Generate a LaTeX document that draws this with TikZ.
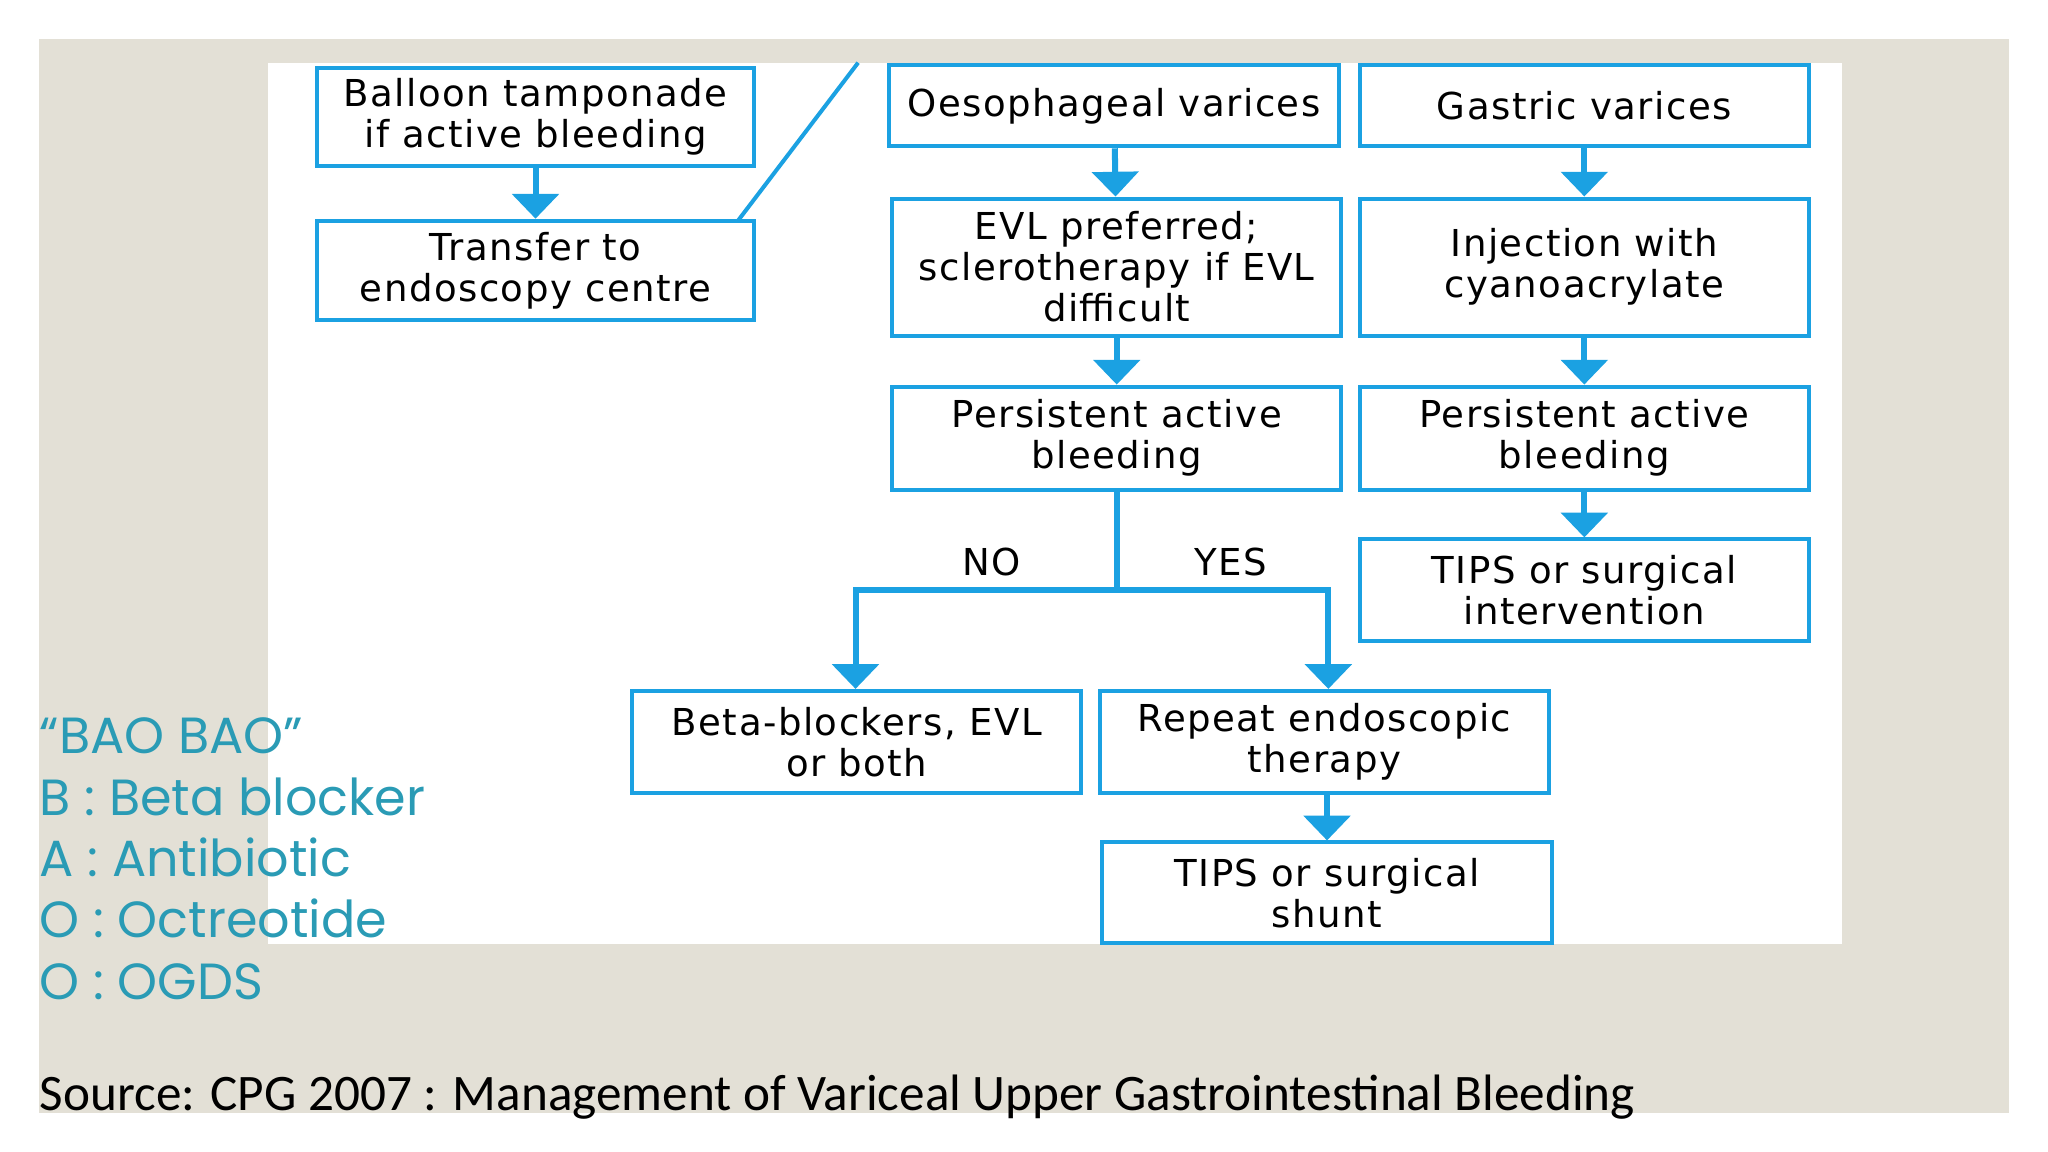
\documentclass[tikz,border=0pt]{standalone}
\usepackage{fontspec}
\setmainfont{DejaVu Sans}[LetterSpace=4]
\newfontfamily\gothic{Poppins}
\newfontfamily\calib{Carlito}
\usetikzlibrary{arrows.meta}
\definecolor{bl}{HTML}{1BA1E2}
\definecolor{bg}{HTML}{E3E0D6}
\definecolor{teal}{HTML}{2A9BB5}
\begin{document}
\begin{tikzpicture}[x=0.013cm,y=-0.013cm,
 box/.style={draw=bl,line width=0.04cm,align=center,font=\fontsize{10.5}{11.6}\selectfont,inner sep=0},
 arr/.style={draw=bl,line width=0.06cm,-{Triangle[width=13pt,length=7pt]}},
 ln/.style={draw=bl,line width=0.06cm}]
\useasboundingbox (0,0) rectangle (1568,882);
\fill[bg] (30,30) rectangle (1538,852);
\fill[white] (205,48) rectangle (1410,723);
\newcommand\bx[6]{\node[box,minimum width={(#4-#2)*0.013cm},minimum height={(#5-#3)*0.013cm}] (#1) at ({(#2+#4)/2},{(#3+#5)/2}) {#6};}
\bx{bal}{243}{52}{577}{127}{Balloon tamponade\\if active bleeding}
\bx{tr}{243}{169}{577}{245}{Transfer to\\endoscopy centre}
\bx{oe}{681}{50}{1025}{112}{Oesophageal varices}
\bx{ga}{1041}{50}{1385}{112}{Gastric varices}
\bx{evl}{683}{152}{1027}{257}{EVL preferred;\\sclerotherapy if EVL\\difficult}
\bx{inj}{1041}{152}{1385}{257}{Injection with\\cyanoacrylate}
\bx{pl}{683}{296}{1027}{375}{Persistent active\\bleeding}
\bx{pr}{1041}{296}{1385}{375}{Persistent active\\bleeding}
\bx{tips1}{1041}{413}{1385}{491}{TIPS or surgical\\intervention}
\bx{beta}{484}{529}{828}{607}{Beta-blockers, EVL\\or both}
\bx{rep}{842}{529}{1186}{607}{Repeat endoscopic\\therapy}
\bx{tips2}{844}{645}{1188}{722}{TIPS or surgical\\shunt}
\draw[bl,line width=0.04cm] (565,169) -- (657,48);
\draw[arr] (bal) -- (tr);
\draw[arr] (oe) -- (evl);
\draw[arr] (ga) -- (inj);
\draw[arr] (evl) -- (pl);
\draw[arr] (inj) -- (pr);
\draw[arr] (pr) -- (tips1);
\draw[arr] (rep.south -| tips2) -- (tips2);
\coordinate (j) at (855,452);
\draw[ln] (pl.south -| j) -- (j);
\draw[arr] (j) -| (beta.north -| 655,0);
\draw[arr] (j) -| (rep.north -| 1017,0);
\node[font=\fontsize{10.5}{11}\selectfont] (no) at (759,430) {NO};
\node[font=\fontsize{10.5}{11}\selectfont] (yes) at (942,430) {YES};
\node[anchor=north west,align=left,text=teal,font=\gothic\fontsize{14.4}{17.4}\selectfont,inner sep=0] (bao) at (30,549)
 {“BAO BAO”\\B : Beta blocker\\A : Antibiotic\\O : Octreotide\\O : OGDS};
\node[anchor=west,font=\calib\fontsize{14.5}{18}\selectfont,inner sep=0] (src) at (30,840)
 {Source: CPG 2007 : Management of Variceal Upper Gastrointestinal Bleeding};
\end{tikzpicture}
\end{document}
